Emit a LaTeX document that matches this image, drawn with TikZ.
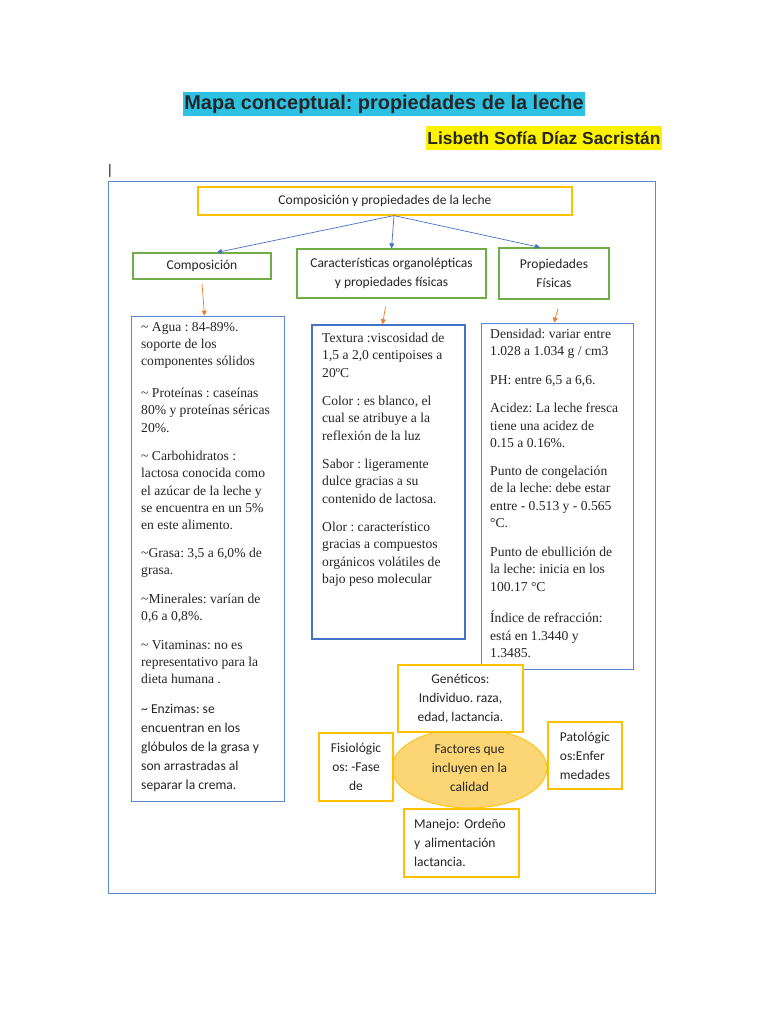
\documentclass[tikz,border=0pt]{standalone}
\usepackage{fontspec}
\setmainfont{Liberation Serif}
\newfontfamily\calf{Carlito}
\newfontfamily\arialf{Liberation Sans}
\usetikzlibrary{arrows.meta,shapes.geometric}
\definecolor{bl}{HTML}{4472C4}
\definecolor{lbl}{HTML}{5B87D6}
\definecolor{gr}{HTML}{70AD47}
\definecolor{yl}{HTML}{FFC000}
\definecolor{orn}{HTML}{ED7D31}
\definecolor{cy}{HTML}{2DC2E3}
\definecolor{txt}{HTML}{262626}
\definecolor{ell}{HTML}{FCD574}
\frenchspacing
\begin{document}
\begin{tikzpicture}[x=1pt,y=-1pt,
 box/.style={draw, fill=white, inner sep=0pt, line width=0.8pt},
 ybox/.style={box, draw=yl, line width=1.2pt, font=\calf\fontsize{13.5}{19}\selectfont, text=txt, align=center},
 gbox/.style={box, draw=gr, line width=1.2pt, font=\calf\fontsize{13.5}{19}\selectfont, text=txt, align=center},
 bbox/.style={box, draw=lbl},
 para/.style={anchor=north west, inner sep=0pt, align=left, text=txt, font=\fontsize{13.6}{17.3}\selectfont},
 spara/.style={para, font=\calf\fontsize{13.6}{19}\selectfont},
 barrow/.style={draw=bl, line width=0.7pt, -{Triangle[length=5pt,width=5pt]}},
 oarrow/.style={draw=orn, line width=0.7pt, -{Triangle[length=5pt,width=5pt]}}]
\useasboundingbox[fill=white] (0,0) rectangle (768,1024);

% title
\node[fill=cy, inner xsep=1pt, inner ysep=0pt, minimum height=24pt, text=txt,
  font=\arialf\bfseries\fontsize{19.9}{20}\selectfont] (title) at (384,104) {Mapa conceptual: propiedades de la leche};
\node[fill=yellow, inner xsep=1pt, inner ysep=0pt, minimum height=24pt, text=txt,
  font=\arialf\bfseries\fontsize{17.4}{18}\selectfont] (author) at (544,138) {Lisbeth Sofía Díaz Sacristán};
\node[inner sep=0pt, text=txt, font=\arialf\fontsize{14}{14}\selectfont] (cursor) at (110,171) {|};

% frame
\node[draw=lbl, line width=0.8pt, minimum width=547pt, minimum height=712pt, inner sep=0pt] (frame) at (381.5,537) {};

% level 1 and 2
\node[ybox, minimum width=374pt, minimum height=28pt] (top) at (385,201) {Composición y propiedades de la leche};
\node[gbox, minimum width=138pt, minimum height=26pt] (comp) at (202,266) {Composición};
\node[gbox, minimum width=189pt, minimum height=49pt] (cara) at (391.5,273.5) {Características organolépticas\\y propiedades físicas};
\node[gbox, minimum width=110pt, minimum height=51pt] (prop) at (554,273.5) {Propiedades\\Físicas};

\coordinate (o) at ([xshift=9pt]top.south);
\draw[barrow] (o) -- ([xshift=15pt]comp.north);
\draw[barrow] (o) -- (cara.north);
\draw[barrow] (o) -- ([xshift=-14pt]prop.north);

% content boxes
\node[bbox, minimum width=153pt, minimum height=485pt] (lbox) at (207.5,558.5) {};
\node[box, draw=bl, line width=1.5pt, minimum width=153pt, minimum height=314pt] (mbox) at (388.5,482) {};
\node[bbox, minimum width=152pt, minimum height=346pt] (rbox) at (557,496) {};

\draw[oarrow] ([yshift=-4pt]comp.south) -- ([xshift=-3pt]lbox.north);
\draw[oarrow] ([xshift=-6pt,yshift=-8pt]cara.south) -- ([xshift=-6pt]mbox.north);
\draw[oarrow] ([xshift=4pt,yshift=-9pt]prop.south) -- ([xshift=-3pt]rbox.north);

% left column
\node[para] (l1) at (141,322) {\textasciitilde{} Agua : 84-89\%.\\soporte de los\\componentes sólidos};
\node[para] (l2) at (141,388) {\textasciitilde{} Proteínas : caseínas\\80\% y proteínas séricas\\20\%.};
\node[para] (l3) at (141,451) {\textasciitilde{} Carbohidratos :\\lactosa conocida como\\el azúcar de la leche y\\se encuentra en un 5\%\\en este alimento.};
\node[para] (l4) at (141,548) {\textasciitilde Grasa: 3,5 a 6,0\% de\\grasa.};
\node[para] (l5) at (141,594) {\textasciitilde Minerales: varían de\\0,6 a 0,8\%.};
\node[para] (l6) at (141,640) {\textasciitilde{} Vitaminas: no es\\representativo para la\\dieta humana .};
\node[spara] (l7) at (141,704) {\textasciitilde{} Enzimas: se\\encuentran en los\\glóbulos de la grasa y\\son arrastradas al\\separar la crema.};

% middle column
\node[para] (m1) at (322,333) {Textura :viscosidad de\\1,5 a 2,0 centipoises a\\20ºC};
\node[para] (m2) at (322,396) {Color : es blanco, el\\cual se atribuye a la\\reflexión de la luz};
\node[para] (m3) at (322,459) {Sabor : ligeramente\\dulce gracias a su\\contenido de lactosa.};
\node[para] (m4) at (322,522) {Olor : característico\\gracias a compuestos\\orgánicos volátiles de\\bajo peso molecular};

% right column
\node[para] (r1) at (490,329) {Densidad: variar entre\\1.028 a 1.034 g / cm3};
\node[para] (r2) at (490,375) {PH: entre 6,5 a 6,6.};
\node[para] (r3) at (490,403) {Acidez: La leche fresca\\tiene una acidez de\\0.15 a 0.16\%.};
\node[para] (r4) at (490,466) {Punto de congelación\\de la leche: debe estar\\entre - 0.513 y - 0.565\\°C.};
\node[para] (r5) at (490,547) {Punto de ebullición de\\la leche: inicia en los\\100.17 °C};
\node[para] (r6) at (490,611) {Índice de refracción:\\está en 1.3440 y\\1.3485.};

% factors
\node[ellipse, draw=yl, fill=ell, line width=0.8pt, minimum width=155pt, minimum height=80pt, inner sep=0pt,
  font=\calf\fontsize{13.5}{19}\selectfont, text=txt, align=center] (fac) at (469.5,768) {Factores que\\incluyen en la\\calidad};
\node[ybox, minimum width=125pt, minimum height=67pt] (gen) at (460.5,698.5) {Genéticos:\\Individuo. raza,\\edad, lactancia.};
\node[ybox, minimum width=74pt, minimum height=68pt] (fis) at (356,767) {Fisiológic\\os: -Fase\\de};
\node[ybox, align=left, minimum width=74pt, minimum height=67pt] (pat) at (585,755.5) {Patológic\\os:Enfer\\medades};
\node[ybox, line width=1.8pt, align=left, text width=95pt, inner xsep=10pt, minimum height=68pt] (man) at (461.5,843) {Manejo: Ordeño\\y alimentación\\lactancia.};
\end{tikzpicture}
\end{document}
